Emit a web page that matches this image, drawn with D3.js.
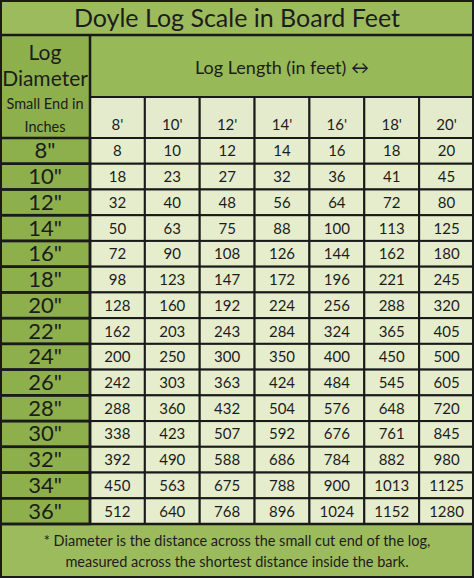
<!DOCTYPE html>
<html><head><meta charset="utf-8">
<script src="https://cdn.jsdelivr.net/npm/d3@7"></script>
<style>body{margin:0;background:#fff}</style>
</head><body>
<svg id="svgArea" width="474" height="578"></svg>
<script>
var lengths = ["8'", "10'", "12'", "14'", "16'", "18'", "20'"];
var diameters = ['8"', '10"', '12"', '14"', '16"', '18"', '20"', '22"', '24"', '26"', '28"', '30"', '32"', '34"', '36"'];
var boardFeet = [
    [8, 10, 12, 14, 16, 18, 20],
    [18, 23, 27, 32, 36, 41, 45],
    [32, 40, 48, 56, 64, 72, 80],
    [50, 63, 75, 88, 100, 113, 125],
    [72, 90, 108, 126, 144, 162, 180],
    [98, 123, 147, 172, 196, 221, 245],
    [128, 160, 192, 224, 256, 288, 320],
    [162, 203, 243, 284, 324, 365, 405],
    [200, 250, 300, 350, 400, 450, 500],
    [242, 303, 363, 424, 484, 545, 605],
    [288, 360, 432, 504, 576, 648, 720],
    [338, 423, 507, 592, 676, 761, 845],
    [392, 490, 588, 686, 784, 882, 980],
    [450, 563, 675, 788, 900, 1013, 1125],
    [512, 640, 768, 896, 1024, 1152, 1280]
];
var title = "Doyle Log Scale in Board Feet";
var footnote = ["* Diameter is the distance across the small cut end of the log,",
                "measured across the shortest distance inside the bark."];

var width = 474, height = 578;
var leftCol = 90, titleH = 35, headH = 97, colLabelBottom = 138, tableBottom = 524;
var font = "Lato, 'Open Sans', sans-serif";
var ink = "#1c1c1c";

var svg = d3.select("#svgArea");
var x = d3.scaleBand().domain(lengths).range([leftCol, width]);
var y = d3.scaleBand().domain(diameters).range([colLabelBottom, tableBottom]);

// backgrounds
svg.append("rect").attr("width", width).attr("height", height).attr("fill", "#9cbb5c");
svg.append("rect").attr("x", 0).attr("y", titleH).attr("width", leftCol).attr("height", tableBottom - titleH).attr("fill", "#8db04c");
svg.append("rect").attr("x", leftCol).attr("y", titleH).attr("width", width - leftCol).attr("height", headH - titleH).attr("fill", "#97b957");

// column header cells
svg.selectAll(".colHead").data(lengths).enter().append("rect")
    .attr("x", function(d) { return x(d); })
    .attr("y", headH)
    .attr("width", x.bandwidth())
    .attr("height", colLabelBottom - headH)
    .attr("fill", "#e3ebcc")
    .attr("stroke", "#1a1a1a").attr("stroke-width", 2);

// data cells
boardFeet.forEach(function(row, i) {
    svg.selectAll(".r" + i).data(row).enter().append("rect")
        .attr("x", function(d, j) { return x(lengths[j]); })
        .attr("y", y(diameters[i]))
        .attr("width", x.bandwidth())
        .attr("height", y.bandwidth())
        .attr("fill", "#e6edcd")
        .attr("stroke", "#1a1a1a").attr("stroke-width", 2);
    svg.selectAll(".t" + i).data(row).enter().append("text")
        .text(function(d) { return d; })
        .attr("x", function(d, j) { return x(lengths[j]) + x.bandwidth() / 2; })
        .attr("y", y(diameters[i]) + y.bandwidth() / 2 + 5.5)
        .attr("text-anchor", "middle")
        .attr("font-family", font).attr("font-size", 15).attr("fill", ink);
});

// row labels
svg.selectAll(".rowLine").data(diameters).enter().append("rect")
    .attr("x", 0).attr("y", function(d) { return y(d); })
    .attr("width", leftCol).attr("height", y.bandwidth())
    .attr("fill", "none").attr("stroke", "#1a1a1a").attr("stroke-width", 2.5);
svg.selectAll(".rowLabel").data(diameters).enter().append("text")
    .text(function(d) { return d; })
    .attr("x", leftCol / 2)
    .attr("y", function(d) { return y(d) + y.bandwidth() / 2 + 7.5; })
    .attr("text-anchor", "middle")
    .attr("font-family", font).attr("font-size", 22).attr("fill", ink);

// column labels
svg.selectAll(".colLabel").data(lengths).enter().append("text")
    .text(function(d) { return d; })
    .attr("x", function(d) { return x(d) + x.bandwidth() / 2; })
    .attr("y", colLabelBottom - 8)
    .attr("text-anchor", "middle")
    .attr("font-family", font).attr("font-size", 15).attr("fill", ink);

// header outlines
svg.append("line").attr("x1", 0).attr("x2", width).attr("y1", titleH).attr("y2", titleH)
    .attr("stroke", "#1a1a1a").attr("stroke-width", 2.5);
svg.append("line").attr("x1", leftCol).attr("x2", leftCol).attr("y1", titleH).attr("y2", tableBottom)
    .attr("stroke", "#1a1a1a").attr("stroke-width", 2.5);
svg.append("line").attr("x1", 0).attr("x2", width).attr("y1", tableBottom).attr("y2", tableBottom)
    .attr("stroke", "#1a1a1a").attr("stroke-width", 2.5);
svg.append("rect").attr("x", 1).attr("y", 1).attr("width", width - 2).attr("height", height - 2)
    .attr("fill", "none").attr("stroke", "#1a1a1a").attr("stroke-width", 2);

// titles
svg.append("text").text(title)
    .attr("x", width / 2).attr("y", 27).attr("text-anchor", "middle")
    .attr("font-family", font).attr("font-size", 25).attr("fill", ink);
svg.append("text").text("Log Length (in feet) \u2194")
    .attr("x", (leftCol + width) / 2).attr("y", 74).attr("text-anchor", "middle")
    .attr("font-family", font).attr("font-size", 18).attr("fill", ink);

var leftHead = [["Log", 21, 60], ["Diameter", 21, 86], ["Small End in", 14.5, 109], ["Inches", 14.5, 132]];
svg.selectAll(".leftHead").data(leftHead).enter().append("text")
    .text(function(d) { return d[0]; })
    .attr("x", leftCol / 2).attr("y", function(d) { return d[2]; })
    .attr("text-anchor", "middle")
    .attr("font-family", font).attr("font-size", function(d) { return d[1]; }).attr("fill", ink);

svg.selectAll(".foot").data(footnote).enter().append("text")
    .text(function(d) { return d; })
    .attr("x", width / 2).attr("y", function(d, i) { return 546 + i * 21; })
    .attr("text-anchor", "middle")
    .attr("font-family", font).attr("font-size", 14.5).attr("fill", ink);
</script>
</body></html>
